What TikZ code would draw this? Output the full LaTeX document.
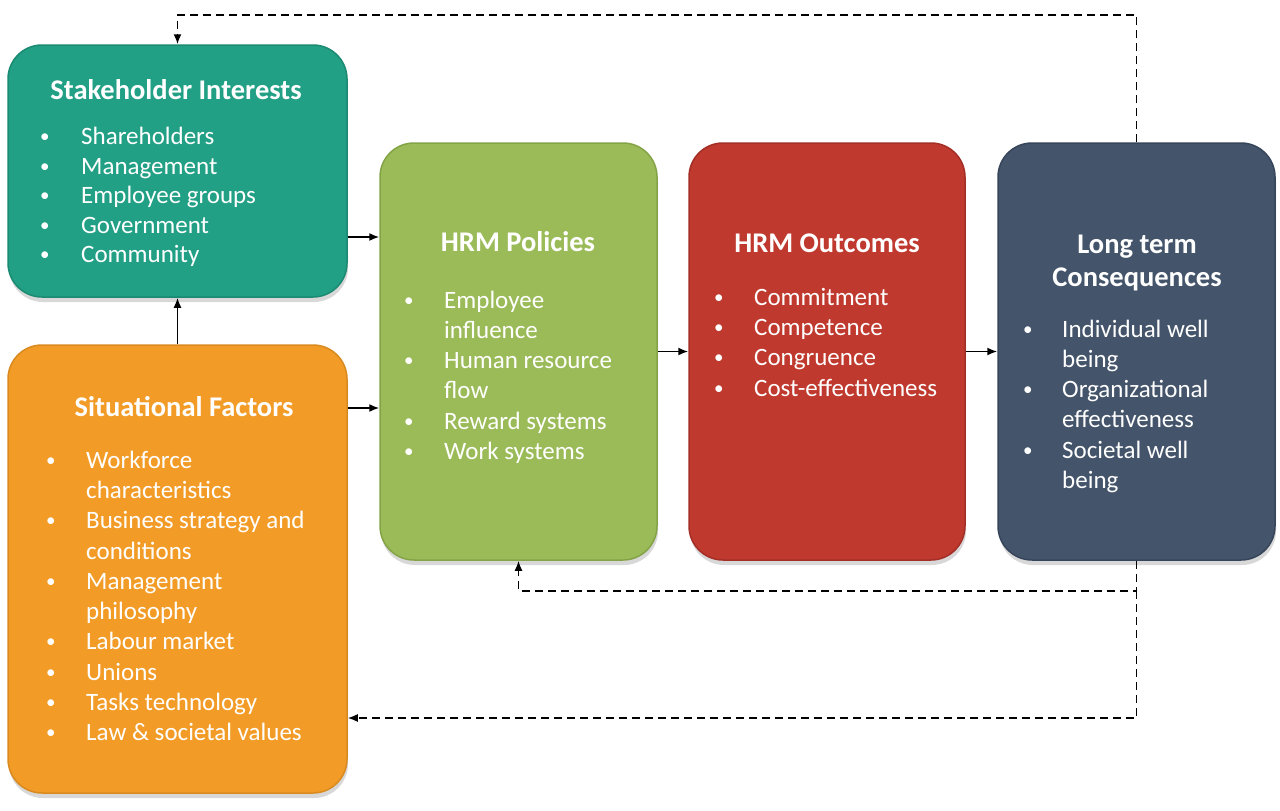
\documentclass[tikz,border=0pt]{standalone}
\usepackage{fontspec}
\setmainfont{Carlito}
\usetikzlibrary{arrows.meta,shadows}
\definecolor{cStake}{HTML}{22A085}
\definecolor{cStakeB}{HTML}{1A8A72}
\definecolor{cSit}{HTML}{F29C27}
\definecolor{cSitB}{HTML}{D98A1F}
\definecolor{cPol}{HTML}{9BBB59}
\definecolor{cPolB}{HTML}{84A347}
\definecolor{cOut}{HTML}{C0392E}
\definecolor{cOutB}{HTML}{A32F26}
\definecolor{cLong}{HTML}{44546A}
\definecolor{cLongB}{HTML}{37455A}
\newcommand{\smbul}{\raisebox{1.5pt}{\fontsize{19pt}{19pt}\selectfont\textbullet}}
\tikzset{
  box/.style={rectangle, rounded corners=34pt, line width=1.5pt, inner sep=0pt,
    drop shadow={shadow xshift=1pt, shadow yshift=-5pt, opacity=0.3}},
  ttl/.style={text=white, font=\fontsize{28.5pt}{34pt}\selectfont\bfseries, anchor=base, inner sep=0pt, align=center},
  bod/.style={text=white, font=\fontsize{25pt}{30pt}\selectfont, anchor=base west, inner sep=0pt},
  arr/.style={line width=1.6pt, -{Latex[length=10pt,width=8pt]}},
  darr/.style={arr, dash pattern=on 8pt off 5pt},
}
\begin{document}
\begin{tikzpicture}[x=1pt,y=1pt]
\useasboundingbox[fill=white] (0,0) rectangle (1280,-811);

% boxes
\node[box, fill=cStake, draw=cStakeB, minimum width=339pt, minimum height=252pt] (sk) at (177.5,-171) {};
\node[box, fill=cSit, draw=cSitB, minimum width=339pt, minimum height=448pt] (sf) at (177.5,-569) {};
\node[box, fill=cPol, draw=cPolB, minimum width=277pt, minimum height=417pt] (hp) at (518.5,-351.5) {};
\node[box, fill=cOut, draw=cOutB, minimum width=276pt, minimum height=417pt] (ho) at (827,-351.5) {};
\node[box, fill=cLong, draw=cLongB, minimum width=277pt, minimum height=417pt] (lt) at (1136.5,-351.5) {};

% titles
\node[ttl] (skt) at (176,-99) {Stakeholder Interests};
\node[ttl] (sft) at (184,-416) {Situational Factors};
\node[ttl] (hpt) at (518,-251) {HRM Policies};
\node[ttl] (hot) at (827,-252) {HRM Outcomes};
\node[ttl] (ltt) at (1137,-253) {Long term};
\node[ttl] (ltt2) at (1137,-286) {Consequences};

% bullet lists
\foreach \yy/\bb/\txt [count=\i] in {144/1/Shareholders, 174/1/Management, 203/1/Employee groups, 233/1/Government, 262/1/Community}
  \node[bod] (sk\i) at (40,-\yy) {\makebox[41pt][l]{\ifnum\bb=1 \smbul\fi}\txt};

\foreach \yy/\bb/\txt [count=\i] in {468/1/Workforce, 498/0/characteristics, 528/1/Business strategy and, 559/0/conditions, 589/1/Management, 619/0/philosophy, 649/1/Labour market, 680/1/Unions, 710/1/Tasks technology, 740/1/Law \& societal values}
  \node[bod] (sf\i) at (46,-\yy) {\makebox[40pt][l]{\ifnum\bb=1 \smbul\fi}\txt};

\foreach \yy/\bb/\txt [count=\i] in {308/1/Employee, 338/0/influence, 368/1/Human resource, 398/0/flow, 429/1/Reward systems, 459/1/Work systems}
  \node[bod] (hp\i) at (404,-\yy) {\makebox[40pt][l]{\ifnum\bb=1 \smbul\fi}\txt};

\foreach \yy/\bb/\txt [count=\i] in {305/1/Commitment, 335/1/Competence, 365/1/Congruence, 396/1/Cost-effectiveness}
  \node[bod] (ho\i) at (714,-\yy) {\makebox[40pt][l]{\ifnum\bb=1 \smbul\fi}\txt};

\foreach \yy/\bb/\txt [count=\i] in {337/1/Individual well, 367/0/being, 397/1/Organizational, 427/0/effectiveness, 458/1/Societal well, 488/0/being}
  \node[bod] (lt\i) at (1023,-\yy) {\makebox[39pt][l]{\ifnum\bb=1 \smbul\fi}\txt};

% helper coordinates
\coordinate (ya) at (0,-237);
\coordinate (yb) at (0,-408);
\coordinate (top) at (0,-15);
\coordinate (b1) at (0,-591);
\coordinate (b2) at (0,-718);
\coordinate (j1) at (lt.south |- b1);

% solid connectors
\draw[arr] (sk.east |- ya) -- (hp.west |- ya);
\draw[arr] (sf.east |- yb) -- (hp.west |- yb);
\draw[arr] (sf.north) -- (sk.south);
\draw[arr] (hp.east) -- (ho.west);
\draw[arr] (ho.east) -- (lt.west);

% dashed feedback
\draw[darr] (lt.north) -- (lt.north |- top) -| (sk.north);
\draw[darr] (lt.south) -- (j1) -| (hp.south);
\draw[darr] (j1) -- (lt.south |- b2) -- (sf.east |- b2);
\end{tikzpicture}
\end{document}
